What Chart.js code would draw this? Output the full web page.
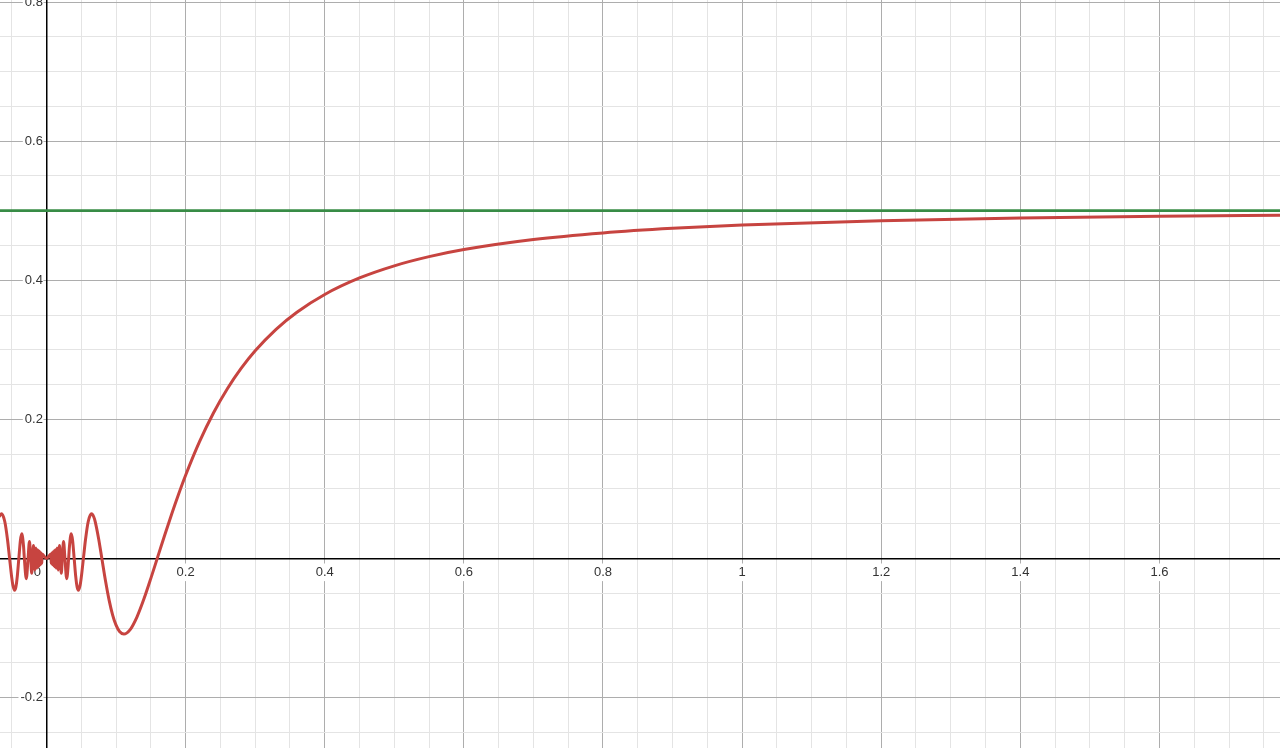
<!DOCTYPE html>
<html>
<head>
<meta charset="utf-8">
<script src="https://cdn.jsdelivr.net/npm/chart.js@4.4.1/dist/chart.umd.min.js"></script>
<style>
  html, body { margin: 0; padding: 0; background: #ffffff; overflow: hidden; }
  #wrap { width: 1280px; height: 748px; position: relative; }
</style>
</head>
<body>
<div id="wrap"><canvas id="c" width="1280" height="748"></canvas></div>
<script>
// Curve samples (x ascending)
const curveX = [
  -0.07, -0.068, -0.06472, -0.06, -0.056, -0.05305, -0.05, -0.0485, -0.04585, -0.044, -0.042,
  -0.03979, -0.0375, -0.03555, -0.033, -0.03183, -0.02903, -0.02653, -0.02449, -0.02274, -0.02122,
  -0.01989, -0.01872, -0.01768, -0.01675, -0.01592, -0.01516, -0.01447, -0.01384, -0.01326, -0.01273,
  -0.01224, -0.01179, -0.01137, -0.01098, -0.01061, -0.01027, -0.00995, -0.00965, -0.00936, -0.00909,
  -0.00884, -0.00860, -0.00838, -0.00816, -0.00796, -0.00776, -0.00758, -0.00741, -0.00723, -0.00707,
  -0.00691, -0.00676, -0.00663, -0.00649,
  0,
  0.00649, 0.00663, 0.00676, 0.00691, 0.00707, 0.00723, 0.00741, 0.00758,
  0.00776, 0.00796, 0.00816, 0.00838, 0.00860, 0.00884, 0.00909, 0.00936, 0.00965, 0.00995,
  0.01027, 0.01061, 0.01098, 0.01137, 0.01179, 0.01224, 0.01273, 0.01326, 0.01384, 0.01447,
  0.01516, 0.01592, 0.01675, 0.01768, 0.01872, 0.01989, 0.02122, 0.02274, 0.02449, 0.02653,
  0.02903, 0.03183, 0.033, 0.03555, 0.0375, 0.03979, 0.042, 0.044, 0.04585, 0.0485, 0.05,
  0.05305, 0.056, 0.06, 0.06472, 0.068, 0.07, 0.075, 0.07958, 0.085, 0.09, 0.095, 0.10, 0.105,
  0.11127, 0.12, 0.13, 0.14, 0.15, 0.15915, 0.165, 0.17, 0.18, 0.19, 0.20, 0.22, 0.24, 0.26,
  0.28, 0.30, 0.33, 0.36, 0.40, 0.45, 0.50, 0.55, 0.60, 0.70, 0.80, 0.90, 1.00, 1.20, 1.40, 1.60, 1.78
];
const curveY = [
  0.05303, 0.05964, 0.06419, 0.05324, 0.02666, 0, -0.02720, -0.03752, -0.04566, -0.04105, -0.02580,
  0, 0.02602, 0.03546, 0.01743, 0, -0.02900, 0, 0.02449, 0, -0.02122,
  0, 0.01872, 0, -0.01675, 0, 0.01516, 0, -0.01384, 0, 0.01273,
  0, -0.01179, 0, 0.01098, 0, -0.01027, 0, 0.00965, 0, -0.00909,
  0, 0.00860, 0, -0.00816, 0, 0.00776, 0, -0.00741, 0, 0.00707,
  0, -0.00676, 0, 0.00649,
  0,
  0.00649, 0, -0.00676, 0, 0.00707, 0, -0.00741, 0,
  0.00776, 0, -0.00816, 0, 0.00860, 0, -0.00909, 0, 0.00965, 0,
  -0.01027, 0, 0.01098, 0, -0.01179, 0, 0.01273, 0, -0.01384, 0,
  0.01516, 0, -0.01675, 0, 0.01872, 0, -0.02122, 0, 0.02449, 0,
  -0.02900, 0, 0.01743, 0.03546, 0.02602, 0, -0.02580, -0.04105, -0.04566, -0.03752, -0.02720,
  0, 0.02666, 0.05324, 0.06419, 0.05964, 0.05303, 0.02806, 0, -0.03317, -0.05986, -0.08095, -0.09589, -0.10487,
  -0.10861, -0.10257, -0.08420, -0.05834, -0.02859, 0, 0.01832, 0.03384, 0.06405, 0.09276, 0.11969, 0.16799, 0.20916, 0.24403,
  0.27356, 0.29862, 0.32949, 0.35406, 0.37959, 0.40329, 0.42074, 0.43392, 0.44410, 0.45855, 0.46808, 0.47468, 0.47943, 0.48566, 0.48944, 0.49189, 0.49345
];
// Horizontal asymptote line
const lineX = [-0.1, 1.9];
const lineY = [0.5, 0.5];

// Axis ranges and tick spacing
const xRange = [-0.06685, 1.7733];
const yRange = [-0.27243, 0.80290];
const minorStep = 0.05;
const majorStep = 0.2;

const curveData = curveX.map((x, i) => ({ x: x, y: curveY[i] }));
const lineData = lineX.map((x, i) => ({ x: x, y: lineY[i] }));

const isMajor = v => Math.abs(v / majorStep - Math.round(v / majorStep)) < 1e-6;
const isZero = v => Math.abs(v) < 1e-9;
const fmt = v => String(Math.round(v * 10) / 10);

const FONT = { family: 'Arial, "Liberation Sans", sans-serif', size: 13 };
const gridColor = ctx => {
  const v = ctx.tick ? ctx.tick.value : 0;
  if (isZero(v)) return '#000000';
  return isMajor(v) ? '#adadad' : '#e4e4e4';
};
const zeroPad = s => { s.paddingLeft = 0; s.paddingRight = 0; s.paddingTop = 0; s.paddingBottom = 0; };

new Chart(document.getElementById('c'), {
  type: 'scatter',
  data: {
    datasets: [
      {
        data: curveData,
        showLine: true,
        borderColor: '#c74440',
        borderWidth: 3,
        pointRadius: 0,
        pointHoverRadius: 0,
        cubicInterpolationMode: 'monotone',
        fill: false
      },
      {
        data: lineData,
        showLine: true,
        borderColor: '#388c46',
        borderWidth: 2.8,
        pointRadius: 0,
        pointHoverRadius: 0,
        fill: false
      }
    ]
  },
  options: {
    responsive: false,
    animation: false,
    devicePixelRatio: 1,
    layout: { padding: 0, autoPadding: false },
    plugins: { legend: { display: false }, tooltip: { enabled: false } },
    events: [],
    scales: {
      x: {
        type: 'linear',
        min: xRange[0],
        max: xRange[1],
        position: { y: 0 },
        grid: { color: gridColor, lineWidth: 1, drawTicks: false },
        border: { color: '#000000', width: 1.5 },
        afterFit: zeroPad,
        ticks: {
          stepSize: minorStep,
          autoSkip: false,
          includeBounds: false,
          maxRotation: 0,
          minRotation: 0,
          padding: 6,
          font: FONT,
          color: '#333333',
          showLabelBackdrop: true,
          backdropPadding: 1,
          backdropColor: ctx => (ctx.tick && isMajor(ctx.tick.value) && !isZero(ctx.tick.value)) ? '#ffffff' : 'rgba(0,0,0,0)',
          callback: v => isZero(v) ? '0     ' : (isMajor(v) ? fmt(v) : '')
        }
      },
      y: {
        type: 'linear',
        min: yRange[0],
        max: yRange[1],
        position: { x: 0 },
        grid: { color: gridColor, lineWidth: 1, drawTicks: false },
        border: { color: '#000000', width: 1.5 },
        afterFit: zeroPad,
        ticks: {
          stepSize: minorStep,
          autoSkip: false,
          includeBounds: false,
          padding: 5,
          font: FONT,
          color: '#333333',
          showLabelBackdrop: true,
          backdropPadding: { top: 1, bottom: 1, left: 2, right: -3 },
          backdropColor: ctx => (ctx.tick && isMajor(ctx.tick.value) && !isZero(ctx.tick.value)) ? '#ffffff' : 'rgba(0,0,0,0)',
          callback: v => isZero(v) ? '' : (isMajor(v) ? fmt(v) + ' ' : '')
        }
      }
    }
  }
});
</script>
</body>
</html>
